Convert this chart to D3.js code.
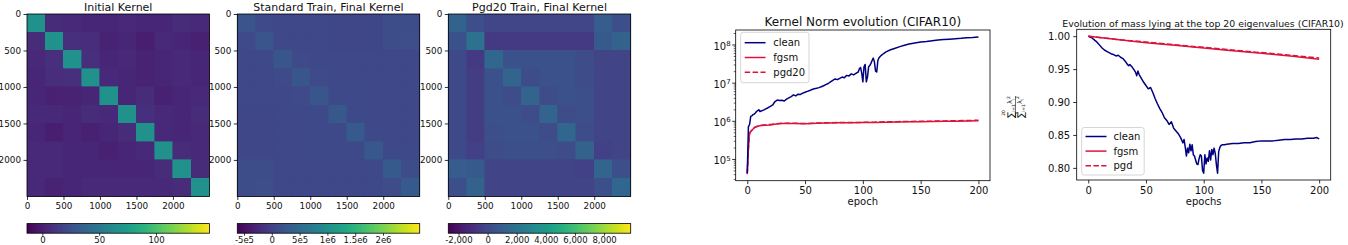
<!DOCTYPE html>
<html><head><meta charset="utf-8">
<script src="https://cdn.jsdelivr.net/npm/d3@7"></script>
<style>
html,body{margin:0;padding:0;background:#fff;}
svg{display:block;font-family:"DejaVu Sans",sans-serif;}
</style></head>
<body>
<svg id="chart" width="1348" height="245"></svg>
<script>
// ---------------- DATA ----------------
const heatTitles = ["Initial Kernel", "Standard Train, Final Kernel", "Pgd20 Train, Final Kernel"];
const heatTicks = [0, 500, 1000, 1500, 2000];
const blockSize = 250;

const kernelInitial = [
  [67, 6, 5, 4, 4, 5, 4, 4, 6, 5],
  [6, 67, 8, 7, 2, 4, 0, 5, 4, 1],
  [5, 8, 67, 8, 4, 5, 2, 4, 5, 4],
  [4, 7, 8, 67, 5, 4, 2, 4, 5, 4],
  [4, 1, 2, 4, 67, 4, 6, 1, 4, 5],
  [5, 5, 4, 6, 5, 67, 9, 5, 4, 6],
  [4, 0, 3, 1, 4, 6, 67, 5, 4, 5],
  [5, 5, 4, 4, 1, 4, 5, 67, 6, 5],
  [5, 5, 4, 4, 4, 3, 4, 6, 67, 6],
  [5, 2, 4, 5, 5, 5, 5, 5, 6, 67]
];
const kernelStandard = [
  [2.4e5, 1.2e5, 0.9e5, 0.9e5, 0.9e5, 0.8e5, 0.8e5, 0.8e5, 1.4e5, 1.4e5],
  [1.2e5, 2.5e5, 0.9e5, 0.9e5, 0.9e5, 0.8e5, 0.8e5, 0.8e5, 1.4e5, 1.5e5],
  [0.9e5, 0.9e5, 2.6e5, 1.2e5, 1.0e5, 1.0e5, 0.9e5, 0.9e5, 0.9e5, 0.9e5],
  [0.9e5, 0.9e5, 1.2e5, 2.6e5, 1.2e5, 1.1e5, 1.0e5, 1.0e5, 0.9e5, 0.9e5],
  [0.9e5, 0.9e5, 1.0e5, 1.2e5, 2.6e5, 1.1e5, 1.0e5, 1.0e5, 0.9e5, 0.9e5],
  [0.8e5, 0.8e5, 1.0e5, 1.1e5, 1.1e5, 2.7e5, 1.1e5, 1.0e5, 0.9e5, 0.9e5],
  [0.8e5, 0.8e5, 0.9e5, 1.0e5, 1.0e5, 1.1e5, 2.9e5, 1.1e5, 0.9e5, 0.9e5],
  [0.8e5, 0.8e5, 0.9e5, 1.0e5, 1.0e5, 1.0e5, 1.1e5, 2.7e5, 1.1e5, 1.0e5],
  [1.4e5, 1.4e5, 0.9e5, 0.9e5, 0.9e5, 0.9e5, 0.9e5, 1.1e5, 3.0e5, 1.3e5],
  [1.4e5, 1.5e5, 0.9e5, 0.9e5, 0.9e5, 0.9e5, 0.9e5, 1.0e5, 1.3e5, 2.9e5]
];
const kernelPgd = [
  [1190, 310, -70, -70, -70, -70, -70, -70, 930, 310],
  [430, 1940, -570, -570, -570, -570, -570, -570, 810, 1190],
  [60, -570, 1430, 430, 430, 430, 430, 180, -190, -190],
  [60, -450, 430, 1310, 180, 430, 430, 180, -190, -190],
  [60, -450, 430, 180, 1310, 180, 430, 310, -190, -190],
  [60, -450, 430, 430, 180, 1310, 180, 310, -190, -190],
  [60, -450, 310, 430, 430, 180, 1430, 180, -190, -190],
  [60, -320, 180, 310, 310, 310, 180, 1190, -320, -190],
  [930, 810, -190, -190, -190, -190, -190, -320, 1310, 310],
  [310, 1190, -190, -190, -190, -190, -190, -190, 310, 1430]
];
const colorDomains = [[-13.5, 147], [-6.2e5, 2.66e6], [-2700, 9830]];
const cbTicks = [[0, 50, 100], [-5e5, 0, 5e5, 1e6, 1.5e6, 2e6], [-2000, 0, 2000, 4000, 6000, 8000]];
const cbTickLabels = [["0", "50", "100"], ["-5e5", "0", "5e5", "1e6", "1.5e6", "2e6"], ["-2,000", "0", "2,000", "4,000", "6,000", "8,000"]];

// Kernel norm evolution
const normCleanEpoch = [0,1,2,3,4,5,6,7,8,9,10,11,12,14,16,18,20,22,24,26,28,30,32,34,36,38,40,42,44,46,48,50,52,54,56,58,60,62,64,66,68,70,72,74,76,78,80,82,84,86,88,90,92,94,96,97,98,99,100,101,102,103,104,105,106,107,108,109,110,111,112,113,114,116,118,120,124,128,132,136,140,145,150,155,160,165,170,175,180,185,190,195,200];
const normClean = [4.2e4,7.0e5,8.0e5,1.3e6,1.35e6,1.45e6,1.5e6,1.6e6,1.75e6,1.85e6,1.95e6,1.75e6,1.8e6,1.9e6,2.05e6,2.2e6,2.4e6,2.6e6,3.2e6,3.5e6,3.4e6,3.45e6,3.3e6,3.7e6,4.0e6,4.3e6,4.8e6,4.5e6,5.0e6,4.9e6,5.3e6,5.6e6,5.9e6,6.2e6,6.6e6,6.9e6,7.1e6,7.4e6,7.8e6,8.3e6,8.9e6,9.5e6,1.05e7,1.15e7,1.25e7,1.2e7,1.3e7,1.4e7,1.35e7,1.55e7,1.5e7,1.7e7,1.6e7,1.75e7,1.9e7,2.3e7,2.5e7,1.8e7,1.05e7,2.6e7,3.0e7,1.05e7,1.4e7,2.6e7,2.8e7,3.2e7,3.8e7,4.4e7,3.5e7,2.0e7,1.9e7,3.8e7,4.5e7,5.2e7,5.8e7,6.4e7,7.3e7,8.0e7,8.8e7,9.6e7,1.03e8,1.1e8,1.16e8,1.2e8,1.26e8,1.32e8,1.35e8,1.38e8,1.42e8,1.45e8,1.5e8,1.53e8,1.58e8];
const normAdvEpoch = [0,1,2,3,4,5,6,8,10,12,15,20,25,30,40,50,60,70,80,90,100,110,120,130,140,150,160,170,180,190,200];
const normFgsm = [4.2e4,2.0e5,4.8e5,5.3e5,5.6e5,6.1e5,6.5e5,7.0e5,7.3e5,7.5e5,7.7e5,7.8e5,8.2e5,8.5e5,8.5e5,8.4e5,8.6e5,8.8e5,8.9e5,8.9e5,9.0e5,9.0e5,9.2e5,9.3e5,9.4e5,9.5e5,9.6e5,9.7e5,9.8e5,9.9e5,1.0e6];
const normPgd20 = [4.0e4,1.8e5,4.6e5,5.2e5,5.7e5,6.0e5,6.6e5,7.1e5,7.3e5,7.6e5,7.8e5,8.0e5,8.3e5,8.6e5,8.6e5,8.5e5,8.7e5,8.9e5,9.0e5,9.0e5,9.1e5,9.2e5,9.4e5,9.5e5,9.6e5,9.7e5,9.8e5,9.9e5,1.0e6,1.02e6,1.03e6];

// Mass at top 20 eigenvalues
const massCleanEpoch = [0,1,2,3,4,5,6,7,8,10,12,14,16,18,20,22,24,26,28,30,32,34,35,36,38,40,41,42,43,44,46,48,50,52,54,56,58,60,62,64,66,68,70,72,74,76,78,80,82,83,84,85,86,87,88,89,90,91,92,93,94,95,96,97,98,99,100,101,102,103,104,105,106,107,108,109,110,111,112,113,114,115,116,118,120,125,130,135,140,145,150,155,160,165,170,175,180,185,190,195,198,200];
const massClean = [1.000,0.999,0.998,0.998,0.996,0.995,0.993,0.992,0.990,0.986,0.982,0.979,0.977,0.975,0.973,0.972,0.970,0.971,0.968,0.966,0.962,0.957,0.955,0.957,0.953,0.948,0.945,0.940,0.947,0.942,0.936,0.930,0.925,0.920,0.922,0.914,0.905,0.897,0.890,0.884,0.876,0.872,0.866,0.870,0.860,0.856,0.852,0.846,0.838,0.843,0.832,0.818,0.830,0.823,0.836,0.826,0.835,0.820,0.818,0.812,0.806,0.805,0.814,0.820,0.818,0.796,0.792,0.820,0.806,0.815,0.810,0.826,0.812,0.828,0.820,0.830,0.822,0.805,0.792,0.825,0.831,0.834,0.835,0.835,0.836,0.837,0.837,0.838,0.838,0.840,0.841,0.841,0.841,0.842,0.843,0.843,0.844,0.844,0.845,0.845,0.846,0.844];
const massAdvEpoch = [0,25,50,75,100,125,150,175,200];
const massFgsm = [1.000,0.995,0.990,0.986,0.982,0.978,0.974,0.970,0.965];
const massPgd = [1.000,0.995,0.991,0.987,0.983,0.979,0.975,0.971,0.967];
const epochTicks = [0, 50, 100, 150, 200];
const massTicks = [0.80, 0.85, 0.90, 0.95, 1.00];
const normTicks = [1e5, 1e6, 1e7, 1e8];

// ---------------- DRAW ----------------
const svg = d3.select("#chart");
const FONT = "DejaVu Sans";
const NAVY = "#000080", CRIMSON = "#dc143c";

function styleAxis(g, fs) {
  g.select(".domain").remove();
  g.selectAll(".tick line").attr("stroke", "#000").attr("stroke-width", 0.8);
  g.selectAll(".tick text").attr("font-family", FONT).attr("font-size", fs).attr("fill", "#111");
}

const heatLeft = [27, 237.3, 448.3];
const heatTop = 14, heatSize = 182.4;
const cbTop = 223.6, cbH = 9.6;
const matrices = [kernelInitial, kernelStandard, kernelPgd];

const defs = svg.append("defs");

matrices.forEach((M, k) => {
  const x = d3.scaleLinear().domain([0, 2500]).range([heatLeft[k], heatLeft[k] + heatSize]);
  const y = d3.scaleLinear().domain([0, 2500]).range([heatTop, heatTop + heatSize]);
  const color = d3.scaleSequential(d3.interpolateViridis).domain(colorDomains[k]);
  const g = svg.append("g").attr("shape-rendering", "crispEdges");
  const cells = [];
  M.forEach((row, i) => row.forEach((v, j) => cells.push({ i, j, v })));
  g.selectAll("rect.cell").data(cells).enter().append("rect")
    .attr("x", d => x(d.j * blockSize)).attr("y", d => y(d.i * blockSize))
    .attr("width", x(blockSize) - x(0)).attr("height", y(blockSize) - y(0))
    .attr("fill", d => color(d.v)).attr("stroke", d => color(d.v)).attr("stroke-width", 0.6);
  svg.append("rect").attr("x", heatLeft[k]).attr("y", heatTop).attr("width", heatSize).attr("height", heatSize)
    .attr("fill", "none").attr("stroke", "#000").attr("stroke-width", 0.8);
  const ax = svg.append("g").attr("transform", `translate(0,${heatTop + heatSize})`)
    .call(d3.axisBottom(x).tickValues(heatTicks).tickFormat(d3.format("d")).tickSize(3.5).tickPadding(2.5));
  styleAxis(ax, 8.8);
  const ay = svg.append("g").attr("transform", `translate(${heatLeft[k]},0)`)
    .call(d3.axisLeft(y).tickValues(heatTicks).tickFormat(d3.format("d")).tickSize(3.5).tickPadding(2.5));
  styleAxis(ay, 8.8);
  svg.append("text").attr("x", heatLeft[k] + heatSize / 2).attr("y", 11)
    .attr("text-anchor", "middle").attr("font-family", FONT).attr("font-size", 11).attr("fill", "#111")
    .text(heatTitles[k]);

  // colorbar
  const gid = "vir" + k;
  const grad = defs.append("linearGradient").attr("id", gid).attr("x1", "0%").attr("x2", "100%");
  d3.range(0, 1.0001, 0.05).forEach(t => grad.append("stop").attr("offset", (t * 100) + "%").attr("stop-color", d3.interpolateViridis(t)));
  const cx = d3.scaleLinear().domain(colorDomains[k]).range([heatLeft[k], heatLeft[k] + heatSize]);
  svg.append("rect").attr("x", heatLeft[k]).attr("y", cbTop).attr("width", heatSize).attr("height", cbH)
    .attr("fill", `url(#${gid})`).attr("stroke", "#000").attr("stroke-width", 0.8);
  const cax = svg.append("g").attr("transform", `translate(0,${cbTop + cbH})`)
    .call(d3.axisBottom(cx).tickValues(cbTicks[k]).tickFormat((d, i) => cbTickLabels[k][i]).tickSize(2.5).tickPadding(1));
  styleAxis(cax, 8.5);
});

// ---------- Kernel norm plot ----------
{
  const L = 735.7, R = 990, T = 30, B = 180.7;
  const x = d3.scaleLinear().domain([-10, 210]).range([L, R]);
  const y = d3.scaleLog().domain([Math.pow(10, 4.43), Math.pow(10, 8.38)]).range([B, T]);
  const g = svg.append("g");
  const line = (xs, ys) => d3.line().x((d, i) => x(xs[i])).y((d, i) => y(ys[i]))(ys);
  g.append("path").attr("d", line(normAdvEpoch, normFgsm)).attr("fill", "none").attr("stroke", CRIMSON).attr("stroke-width", 1.5).attr("stroke-linejoin", "round");
  g.append("path").attr("d", line(normAdvEpoch, normPgd20)).attr("fill", "none").attr("stroke", CRIMSON).attr("stroke-width", 1.5).attr("stroke-dasharray", "5.5,2.4");
  g.append("path").attr("d", line(normCleanEpoch, normClean)).attr("fill", "none").attr("stroke", NAVY).attr("stroke-width", 1.5).attr("stroke-linejoin", "round");
  svg.append("rect").attr("x", L).attr("y", T).attr("width", R - L).attr("height", B - T).attr("fill", "none").attr("stroke", "#000").attr("stroke-width", 0.8);
  const ax = svg.append("g").attr("transform", `translate(0,${B})`)
    .call(d3.axisBottom(x).tickValues(epochTicks).tickFormat(d3.format("d")).tickSize(3.5).tickPadding(3));
  styleAxis(ax, 10);
  const minor = [];
  for (let e = 4; e <= 8; e++) for (let m = 2; m <= 9; m++) { const v = m * Math.pow(10, e); if (v > y.domain()[0] && v < y.domain()[1]) minor.push(v); }
  const aym = svg.append("g").attr("transform", `translate(${L},0)`)
    .call(d3.axisLeft(y).tickValues(minor).tickFormat("").tickSize(2));
  styleAxis(aym, 10);
  aym.selectAll(".tick line").attr("stroke-width", 0.6);
  const ay = svg.append("g").attr("transform", `translate(${L},0)`)
    .call(d3.axisLeft(y).tickValues(normTicks).tickFormat("").tickSize(3.5).tickPadding(3));
  styleAxis(ay, 10);
  ay.selectAll(".tick").each(function (d) {
    const t = d3.select(this).append("text").attr("x", -5).attr("dy", "0.5em").attr("text-anchor", "end")
      .attr("font-family", FONT).attr("font-size", 10).attr("fill", "#111");
    t.append("tspan").text("10");
    t.append("tspan").attr("dy", "-0.55em").attr("font-size", 7).text(Math.round(Math.log10(d)));
  });
  svg.append("text").attr("x", (L + R) / 2).attr("y", 26).attr("text-anchor", "middle")
    .attr("font-family", FONT).attr("font-size", 12).attr("fill", "#111").text("Kernel Norm evolution (CIFAR10)");
  svg.append("text").attr("x", (L + R) / 2).attr("y", 204.5).attr("text-anchor", "middle")
    .attr("font-family", FONT).attr("font-size", 10).attr("fill", "#111").text("epoch");
  // legend
  const lg = svg.append("g");
  lg.append("rect").attr("x", 740.7).attr("y", 32.3).attr("width", 68.3).attr("height", 50.4).attr("rx", 2.5)
    .attr("fill", "#fff").attr("fill-opacity", 0.8).attr("stroke", "#ccc").attr("stroke-width", 0.8);
  const items = [["clean", NAVY, null], ["fgsm", CRIMSON, null], ["pgd20", CRIMSON, "5.5,2.4"]];
  items.forEach((it, i) => {
    const cy = 42.7 + i * 14.8;
    lg.append("line").attr("x1", 744.7).attr("x2", 765.5).attr("y1", cy).attr("y2", cy)
      .attr("stroke", it[1]).attr("stroke-width", 1.5).attr("stroke-dasharray", it[2]);
    lg.append("text").attr("x", 773.3).attr("y", cy + 3.6).attr("font-family", FONT).attr("font-size", 10).attr("fill", "#111").text(it[0]);
  });
}

// ---------- Mass plot ----------
{
  const L = 1076.7, R = 1330.7, T = 29.3, B = 180;
  const x = d3.scaleLinear().domain([-10, 210]).range([L, R]);
  const y = d3.scaleLinear().domain([0.7816, 1.0104]).range([B, T]);
  const g = svg.append("g");
  const line = (xs, ys) => d3.line().x((d, i) => x(xs[i])).y((d, i) => y(ys[i]))(ys);
  g.append("path").attr("d", line(massCleanEpoch, massClean)).attr("fill", "none").attr("stroke", NAVY).attr("stroke-width", 1.5).attr("stroke-linejoin", "round");
  g.append("path").attr("d", line(massAdvEpoch, massFgsm)).attr("fill", "none").attr("stroke", CRIMSON).attr("stroke-width", 1.5);
  g.append("path").attr("d", line(massAdvEpoch, massPgd)).attr("fill", "none").attr("stroke", CRIMSON).attr("stroke-width", 1.5).attr("stroke-dasharray", "5.5,2.4");
  svg.append("rect").attr("x", L).attr("y", T).attr("width", R - L).attr("height", B - T).attr("fill", "none").attr("stroke", "#000").attr("stroke-width", 0.8);
  const ax = svg.append("g").attr("transform", `translate(0,${B})`)
    .call(d3.axisBottom(x).tickValues(epochTicks).tickFormat(d3.format("d")).tickSize(3.5).tickPadding(3));
  styleAxis(ax, 10);
  const ay = svg.append("g").attr("transform", `translate(${L},0)`)
    .call(d3.axisLeft(y).tickValues(massTicks).tickFormat(d3.format(".2f")).tickSize(3.5).tickPadding(3));
  styleAxis(ay, 10);
  svg.append("text").attr("x", 1203).attr("y", 27).attr("text-anchor", "middle")
    .attr("font-family", FONT).attr("font-size", 9.4).attr("fill", "#111").text("Evolution of mass lying at the top 20 eigenvalues (CIFAR10)");
  svg.append("text").attr("x", (L + R) / 2).attr("y", 204.5).attr("text-anchor", "middle")
    .attr("font-family", FONT).attr("font-size", 10).attr("fill", "#111").text("epochs");
  // y label: fraction rotated
  const yl = svg.append("g").attr("transform", "translate(1015.5,107) rotate(-90)").attr("font-family", FONT).attr("fill", "#111");
  const num = yl.append("text").attr("x", 0).attr("y", -1.8).attr("text-anchor", "middle").attr("font-size", 9);
  num.append("tspan").text("∑");
  num.append("tspan").attr("font-size", 4.5).attr("dy", 1.5).text("i=1");
  num.append("tspan").attr("font-size", 6.5).attr("dy", -3.2).text("λ");
  num.append("tspan").attr("font-size", 4.5).attr("dy", 2.5).text("i");
  num.append("tspan").attr("font-size", 4.5).attr("dy", -5).text("2");
  yl.append("text").attr("x", -6).attr("y", -10.2).attr("font-size", 4.5).attr("text-anchor", "middle").text("20");
  yl.append("line").attr("x1", -11).attr("x2", 11).attr("y1", 0).attr("y2", 0).attr("stroke", "#111").attr("stroke-width", 0.6);
  const den = yl.append("text").attr("x", 0).attr("y", 8).attr("text-anchor", "middle").attr("font-size", 9);
  den.append("tspan").text("∑");
  den.append("tspan").attr("font-size", 4.5).attr("dy", 1.5).text("i=1");
  den.append("tspan").attr("font-size", 6.5).attr("dy", -3.2).text("λ");
  den.append("tspan").attr("font-size", 4.5).attr("dy", 2.5).text("i");
  den.append("tspan").attr("font-size", 4.5).attr("dy", -5).text("2");
  yl.append("text").attr("x", -6).attr("y", 2.6).attr("font-size", 4.5).attr("text-anchor", "middle").text("n");
  // legend
  const lg = svg.append("g");
  lg.append("rect").attr("x", 1081.7).attr("y", 127.5).attr("width", 62.5).attr("height", 47.5).attr("rx", 2.5)
    .attr("fill", "#fff").attr("fill-opacity", 0.8).attr("stroke", "#ccc").attr("stroke-width", 0.8);
  const items = [["clean", NAVY, null], ["fgsm", CRIMSON, null], ["pgd", CRIMSON, "5.5,2.4"]];
  items.forEach((it, i) => {
    const cy = 136.5 + i * 14.6;
    lg.append("line").attr("x1", 1085.5).attr("x2", 1106.5).attr("y1", cy).attr("y2", cy)
      .attr("stroke", it[1]).attr("stroke-width", 1.5).attr("stroke-dasharray", it[2]);
    lg.append("text").attr("x", 1113.5).attr("y", cy + 3.6).attr("font-family", FONT).attr("font-size", 10).attr("fill", "#111").text(it[0]);
  });
}
</script>
</body></html>
